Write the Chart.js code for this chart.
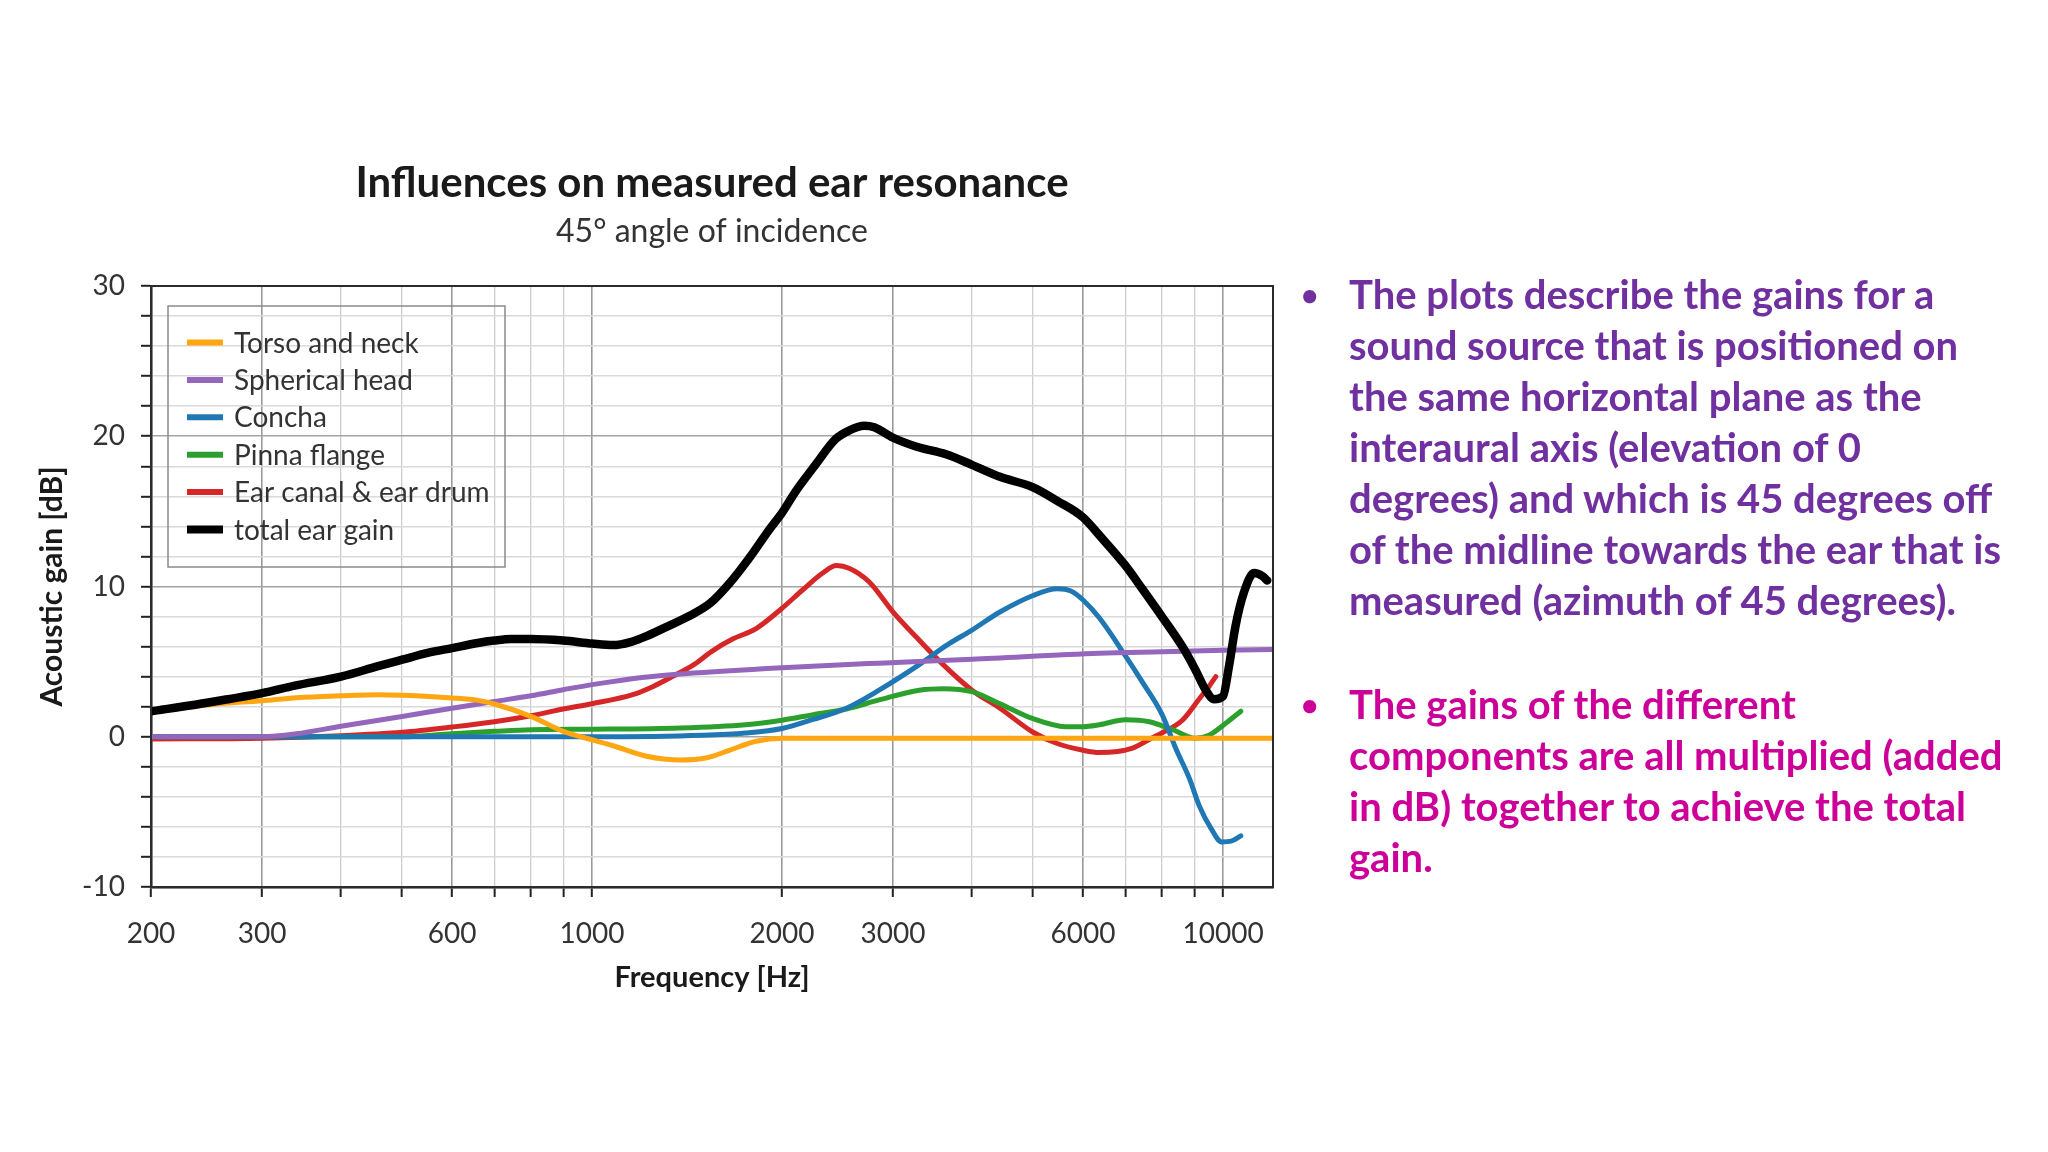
<!DOCTYPE html>
<html>
<head>
<meta charset="utf-8">
<title>Influences on measured ear resonance</title>
<script src="https://cdn.jsdelivr.net/npm/chart.js@4.4.1/dist/chart.umd.min.js"></script>
<style>
    html, body { margin: 0; padding: 0; background: #ffffff; }
    body { width: 2048px; height: 1152px; position: relative; overflow: hidden; }

    #chartBox { position: absolute; left: 0; top: 0; width: 1424px; height: 1003px; }

    .notes {
        position: absolute;
        left: 1301px;
        font-family: Lato, "Open Sans", sans-serif;
        font-weight: 700;
        font-size: 40px;
        line-height: 51px;
        white-space: nowrap;
    }
    .notes .dot { position: absolute; left: 0; top: 0; font-size: 30px; }
    .notes .txt { margin-left: 48px; }
    #note1 { top: 269px; color: #7030a0; }
    #note2 { top: 679px; color: #cc0099; }
</style>
</head>
<body>

<div id="chartBox"><canvas id="earChart"></canvas></div>

<div class="notes" id="note1">
    <span class="dot">•</span>
    <div class="txt">The plots describe the gains for a<br>sound source that is positioned on<br>the same horizontal plane as the<br>interaural axis (elevation of 0<br>degrees) and which is 45 degrees off<br>of the midline towards the ear that is<br>measured (azimuth of 45 degrees).</div>
</div>

<div class="notes" id="note2">
    <span class="dot">•</span>
    <div class="txt">The gains of the different<br>components are all multiplied (added<br>in dB) together to achieve the total<br>gain.</div>
</div>

<script>
// ================= DATOS =================
const xGridHz = [200, 300, 400, 500, 600, 700, 800, 900, 1000, 2000, 3000, 4000, 5000, 6000, 7000, 8000, 9000, 10000];
const xLabelHz = [200, 300, 600, 1000, 2000, 3000, 6000, 10000];
const yLabelDb = [-10, 0, 10, 20, 30];

const seriesLabels = ["Torso and neck", "Spherical head", "Concha", "Pinna flange", "Ear canal & ear drum", "total ear gain"];

const torsoHz = [200, 250, 300, 340, 400, 460, 500, 600, 660, 700, 800, 900, 1000, 1080, 1220, 1380, 1520, 1650, 1820, 2000, 12000];
const torsoDb = [1.65, 2.15, 2.4, 2.6, 2.73, 2.8, 2.76, 2.58, 2.42, 2.18, 1.36, 0.36, -0.2, -0.6, -1.3, -1.55, -1.4, -0.9, -0.3, -0.1, -0.1];

const headHz = [200, 300, 340, 400, 500, 600, 700, 800, 900, 1000, 1200, 1400, 2000, 2850, 4000, 6370, 8000, 10000, 12000];
const headDb = [0, 0, 0.2, 0.7, 1.35, 1.9, 2.35, 2.73, 3.13, 3.47, 3.95, 4.2, 4.6, 4.9, 5.15, 5.55, 5.65, 5.75, 5.8];

const conchaHz = [200, 1000, 1500, 1750, 2000, 2240, 2530, 2850, 3300, 3650, 4000, 4430, 5000, 5460, 5740, 6000, 6370, 7000, 7460, 8000, 8420, 8850, 9170, 9570, 9950, 10300, 10670];
const conchaDb = [0, 0, 0.1, 0.25, 0.55, 1.15, 1.9, 3.1, 4.8, 6.1, 7.1, 8.3, 9.4, 9.85, 9.7, 9.1, 7.9, 5.4, 3.6, 1.5, -0.8, -2.8, -4.6, -6.1, -7.0, -6.95, -6.6];

const pinnaHz = [200, 500, 600, 700, 800, 1000, 1380, 1750, 2000, 2240, 2530, 2850, 3300, 3600, 4000, 4430, 5000, 5630, 6000, 6370, 7000, 7640, 8320, 9030, 9500, 10100, 10670];
const pinnaDb = [0, 0, 0.2, 0.36, 0.47, 0.5, 0.58, 0.8, 1.1, 1.47, 1.85, 2.45, 3.1, 3.2, 3.0, 2.2, 1.2, 0.67, 0.67, 0.8, 1.13, 1.0, 0.47, -0.1, 0.1, 0.9, 1.7];

const canalHz = [200, 300, 400, 500, 600, 700, 800, 900, 1000, 1160, 1250, 1340, 1450, 1550, 1670, 1820, 2000, 2160, 2320, 2440, 2560, 2750, 3000, 3270, 3560, 4000, 4430, 5000, 5460, 6000, 6370, 7190, 7700, 8000, 8620, 9160, 9500, 9740];
const canalDb = [-0.15, -0.1, 0.07, 0.3, 0.65, 1.0, 1.4, 1.85, 2.2, 2.8, 3.35, 4.0, 4.8, 5.7, 6.5, 7.2, 8.55, 9.8, 10.9, 11.4, 11.2, 10.3, 8.3, 6.6, 5.0, 3.1, 1.9, 0.3, -0.45, -0.9, -1.05, -0.75, -0.1, 0.25, 1.1, 2.5, 3.35, 4.0];

const totalHz = [200, 235, 265, 300, 338, 400, 458, 500, 549, 600, 659, 700, 745, 800, 900, 1000, 1080, 1150, 1220, 1310, 1420, 1540, 1650, 1775, 1910, 2000, 2100, 2260, 2430, 2560, 2700, 2800, 3000, 3270, 3640, 4000, 4430, 5000, 5460, 6000, 6370, 7000, 7460, 8000, 8620, 9030, 9390, 9680, 10000, 10220, 10470, 10790, 11200, 11540, 11750];
const totalDb = [1.7, 2.13, 2.5, 2.9, 3.4, 4.0, 4.7, 5.13, 5.58, 5.9, 6.24, 6.4, 6.5, 6.5, 6.4, 6.2, 6.1, 6.3, 6.7, 7.3, 8.0, 8.9, 10.2, 11.9, 13.8, 14.9, 16.3, 18.1, 19.8, 20.4, 20.7, 20.6, 19.9, 19.3, 18.8, 18.1, 17.3, 16.6, 15.7, 14.6, 13.4, 11.4, 9.8, 8.0, 6.0, 4.5, 3.1, 2.5, 2.7, 4.7, 7.4, 9.6, 10.9, 10.7, 10.4];


// ================= ESTILO =================
const seriesColors = ["#ffa612", "#9467bd", "#1f77b4", "#2ca02c", "#d62728", "#000000"];

Chart.defaults.font.family = "Lato, 'Open Sans', sans-serif";
Chart.defaults.color = "#333";

function toPoints(hz, db) {
    return hz.map((f, i) => ({ x: f, y: db[i] }));
}

const seriesPoints = [
    toPoints(torsoHz, torsoDb),
    toPoints(headHz, headDb),
    toPoints(conchaHz, conchaDb),
    toPoints(pinnaHz, pinnaDb),
    toPoints(canalHz, canalDb),
    toPoints(totalHz, totalDb)
];

const datasets = seriesLabels.map((label, i) => {
    const isTotal = i === seriesLabels.length - 1;
    return {
        label: label,
        data: seriesPoints[i],
        borderColor: seriesColors[i],
        backgroundColor: seriesColors[i],
        borderWidth: isTotal ? 8.5 : 5,
        pointRadius: 0,
        fill: false,
        cubicInterpolationMode: 'monotone',
        borderCapStyle: 'round',
        borderJoinStyle: 'round',
        order: isTotal ? 0 : 1
    };
});


// ================= MARCO Y LEYENDA =================
const frameAndLegend = {
    id: 'frameAndLegend',
    afterDatasetsDraw(chart) {
        const { ctx, chartArea: a } = chart;
        ctx.save();

        ctx.strokeStyle = '#2b2b2b';
        ctx.lineWidth = 2;
        ctx.strokeRect(a.left, a.top, a.right - a.left, a.bottom - a.top);

        // caja de leyenda
        const boxX = a.left + 17;
        const boxY = a.top + 20;
        ctx.strokeStyle = '#8a8a8a';
        ctx.lineWidth = 1.5;
        ctx.strokeRect(boxX, boxY, 337, 261);

        ctx.font = "28px Lato, 'Open Sans', sans-serif";
        ctx.textBaseline = 'middle';
        ctx.fillStyle = '#333';

        chart.data.datasets.forEach((ds, i) => {
            const y = boxY + 36.5 + i * 37.4;
            ctx.strokeStyle = ds.borderColor;
            ctx.lineWidth = i === chart.data.datasets.length - 1 ? 8 : 6;
            ctx.beginPath();
            ctx.moveTo(boxX + 19, y);
            ctx.lineTo(boxX + 55, y);
            ctx.stroke();
            ctx.fillText(ds.label, boxX + 66, y + 1);
        });

        ctx.restore();
    }
};


// ================= GRÁFICA =================
const ctx = document.getElementById("earChart");

const earChart = new Chart(ctx, {
    type: 'line',
    data: { datasets: datasets },
    options: {
        responsive: true,
        maintainAspectRatio: false,
        animation: false,
        layout: { padding: 0 },
        plugins: {
            legend: { display: false },
            tooltip: { enabled: false },
            title: {
                display: true,
                text: 'Influences on measured ear resonance',
                color: '#1a1a1a',
                font: { size: 42, weight: 'bold' },
                padding: { top: 157.8, bottom: 0 }
            },
            subtitle: {
                display: true,
                text: '45° angle of incidence',
                color: '#333',
                font: { size: 32 },
                padding: { top: 4.6, bottom: 34.8 }
            }
        },
        scales: {
            x: {
                type: 'logarithmic',
                min: 200,
                max: 12000,
                afterBuildTicks: (scale) => {
                    scale.ticks = xGridHz.map(v => ({ value: v }));
                },
                afterFit: (scale) => { scale.height = 116; },
                ticks: {
                    autoSkip: false,
                    maxRotation: 0,
                    color: '#333',
                    font: { size: 28 },
                    padding: 20,
                    callback: (value) => xLabelHz.includes(value) ? String(value) : ''
                },
                grid: {
                    color: (c) => xLabelHz.includes(c.tick.value) ? '#9a9a9a' : '#cdcdcd',
                    lineWidth: (c) => xLabelHz.includes(c.tick.value) ? 1.6 : 1.3,
                    tickLength: 10,
                    tickColor: '#222',
                    tickWidth: 2
                },
                border: { display: true, color: '#111', width: 2.5 },
                title: {
                    display: true,
                    text: 'Frequency [Hz]',
                    color: '#1a1a1a',
                    font: { size: 29, weight: 'bold' },
                    padding: { top: 0, bottom: 7.6 }
                }
            },
            y: {
                min: -10,
                max: 30,
                afterFit: (scale) => { scale.width = 151; },
                ticks: {
                    stepSize: 2,
                    autoSkip: false,
                    color: '#333',
                    font: { size: 28 },
                    padding: 16,
                    callback: (value) => yLabelDb.includes(value) ? String(value) : ''
                },
                grid: {
                    color: (c) => yLabelDb.includes(c.tick.value) ? '#a3a3a3' : '#dadada',
                    lineWidth: 1.6,
                    tickLength: 10,
                    tickColor: '#222',
                    tickWidth: 2
                },
                border: { display: true, color: '#111', width: 2.5 },
                title: {
                    display: true,
                    text: 'Acoustic gain [dB]',
                    color: '#1a1a1a',
                    font: { size: 30, weight: 'bold' },
                    padding: { top: 34, bottom: 0 }
                }
            },
            yRight: {
                position: 'right',
                min: -10,
                max: 30,
                afterFit: (scale) => { scale.width = 151; },
                ticks: { display: false },
                grid: { display: false },
                border: { display: false }
            }
        }
    },
    plugins: [frameAndLegend]
});
</script>
</body>
</html>
